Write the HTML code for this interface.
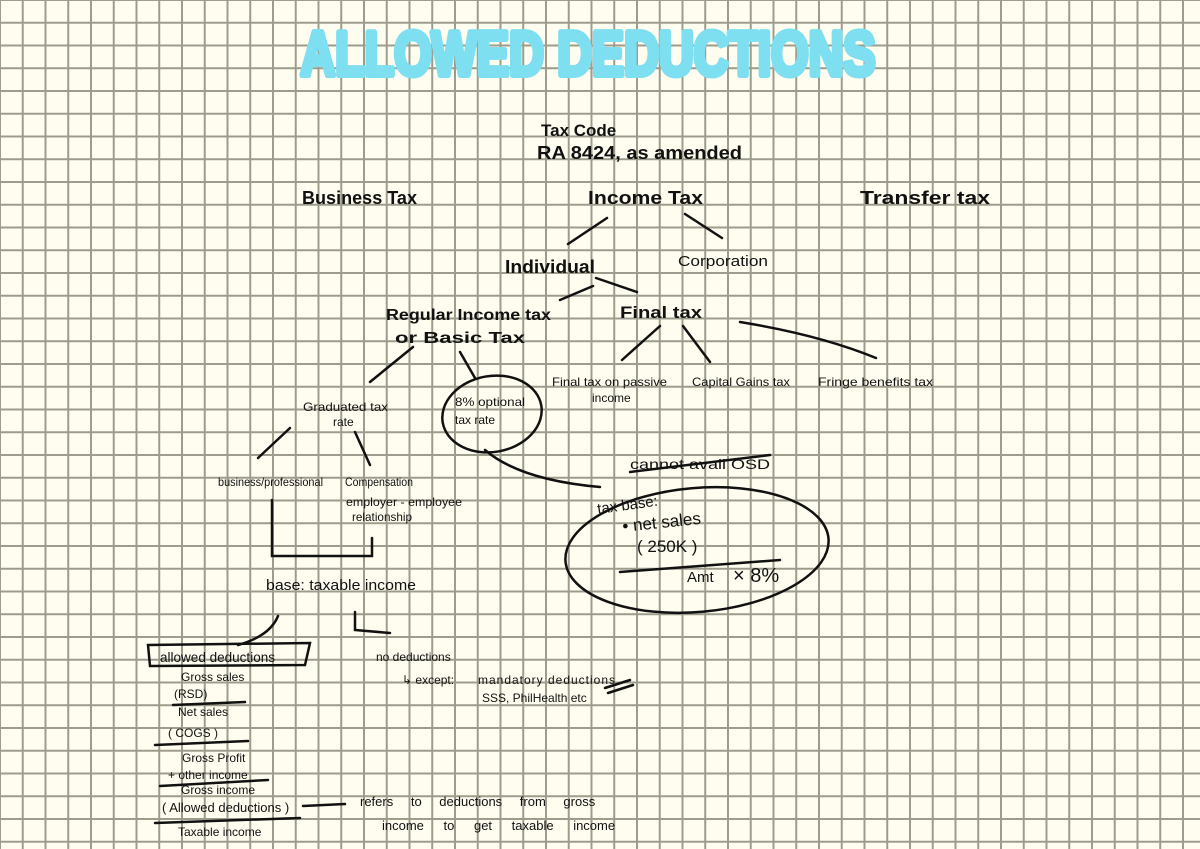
<!DOCTYPE html>
<html><head><meta charset="utf-8"><style>
html,body{margin:0;padding:0}
body{width:1200px;height:849px;overflow:hidden;background-color:#fffdf0;
background-image:linear-gradient(to right,#9c9b8c 0,#9c9b8c 2px,transparent 2px),linear-gradient(to bottom,#9c9b8c 0,#9c9b8c 2px,transparent 2px);
background-size:22.75px 22.75px;background-position:-1px -1px;}
svg{position:absolute;left:0;top:0}
text{font-family:"Liberation Sans",sans-serif;fill:#111}
</style></head><body>
<svg width="1200" height="849" viewBox="0 0 1200 849">
<text x="588" y="75" text-anchor="middle" font-size="62" font-weight="bold" style="fill:#7ddff0;stroke:#7ddff0;stroke-width:6;stroke-linejoin:round" textLength="575" lengthAdjust="spacingAndGlyphs">ALLOWED DEDUCTIONS</text>
<g font-weight="bold">
<text x="541" y="136" font-size="17">Tax Code</text>
<text x="537" y="159" font-size="18" textLength="205" lengthAdjust="spacingAndGlyphs">RA 8424, as amended</text>
<text x="302" y="204" font-size="18" textLength="115" lengthAdjust="spacingAndGlyphs">Business Tax</text>
<text x="588" y="204" font-size="18" textLength="115" lengthAdjust="spacingAndGlyphs">Income Tax</text>
<text x="860" y="204" font-size="18" textLength="130" lengthAdjust="spacingAndGlyphs">Transfer tax</text>
<text x="505" y="273" font-size="18" textLength="90" lengthAdjust="spacingAndGlyphs">Individual</text>
<text x="386" y="320" font-size="16" textLength="165" lengthAdjust="spacingAndGlyphs">Regular Income tax</text>
<text x="395" y="343" font-size="16" textLength="130" lengthAdjust="spacingAndGlyphs">or  Basic Tax</text>
<text x="620" y="318" font-size="17" textLength="82" lengthAdjust="spacingAndGlyphs">Final tax</text>
</g>
<g font-size="12">
<text x="678" y="266" font-size="15" textLength="90" lengthAdjust="spacingAndGlyphs">Corporation</text>
<text x="552" y="386" textLength="115" lengthAdjust="spacingAndGlyphs">Final tax on passive</text>
<text x="592" y="402">income</text>
<text x="692" y="386" textLength="98" lengthAdjust="spacingAndGlyphs">Capital Gains tax</text>
<text x="818" y="386" textLength="115" lengthAdjust="spacingAndGlyphs">Fringe benefits tax</text>
<text x="303" y="411" textLength="85" lengthAdjust="spacingAndGlyphs">Graduated tax</text>
<text x="333" y="426">rate</text>
<text x="455" y="406" textLength="70" lengthAdjust="spacingAndGlyphs">8% optional</text>
<text x="455" y="424">tax rate</text>
<text x="218" y="486" textLength="105" lengthAdjust="spacingAndGlyphs">business/professional</text>
<text x="345" y="486" textLength="68" lengthAdjust="spacingAndGlyphs">Compensation</text>
<text x="346" y="506" textLength="116" lengthAdjust="spacingAndGlyphs">employer - employee</text>
<text x="352" y="521" textLength="60" lengthAdjust="spacingAndGlyphs">relationship</text>
<text x="266" y="590" font-size="15" textLength="150" lengthAdjust="spacingAndGlyphs">base: taxable income</text>
<text x="630" y="469" font-size="14" textLength="140" lengthAdjust="spacingAndGlyphs">cannot avail OSD</text>
<text x="598" y="514" font-size="15" transform="rotate(-8 598 514)">tax base:</text>
<text x="623" y="532" font-size="17" transform="rotate(-6 623 532)">• net sales</text>
<text x="637" y="552" font-size="17">( 250K )</text>
<text x="687" y="582" font-size="15">Amt</text>
<text x="733" y="582" font-size="20">×  8%</text>
<text x="160" y="662" font-size="14" textLength="115" lengthAdjust="spacingAndGlyphs">allowed deductions</text>
<text x="181" y="681">Gross sales</text>
<text x="174" y="698">(RSD)</text>
<text x="178" y="716">Net sales</text>
<text x="168" y="737">( COGS )</text>
<text x="182" y="762">Gross Profit</text>
<text x="168" y="779">+ other income</text>
<text x="181" y="794">Gross income</text>
<text x="162" y="812" font-size="13">( Allowed deductions )</text>
<text x="178" y="836">Taxable income</text>
<text x="376" y="661">no deductions</text>
<text x="402" y="684">↳ except:</text>
<text x="478" y="684" textLength="137" lengthAdjust="spacing">mandatory  deductions</text>
<text x="482" y="702">SSS, PhilHealth  etc</text>
<text x="360" y="806" font-size="13" word-spacing="14">refers to deductions from gross</text>
<text x="382" y="830" font-size="13" word-spacing="16">income to get taxable income</text>
</g>
<g stroke="#111" stroke-width="2.5" fill="none" stroke-linecap="round">
<path d="M607 218 L568 244"/>
<path d="M685 214 L722 238"/>
<path d="M596 278 L637 292"/>
<path d="M593 286 L560 300"/>
<path d="M660 326 L622 360"/>
<path d="M683 326 L710 362"/>
<path d="M740 322 Q820 335 876 358"/>
<path d="M413 347 L370 382"/>
<path d="M460 352 L475 378"/>
<path d="M290 428 L258 458"/>
<path d="M355 432 L370 465"/>
<path d="M272 500 L272 556 L372 556 L372 538"/>
<path d="M278 616 Q270 636 238 645"/>
<path d="M355 612 L355 630 L390 633"/>
<ellipse cx="492" cy="414" rx="50" ry="38" transform="rotate(-10 492 414)"/>
<path d="M485 450 Q520 480 600 487"/>
<ellipse cx="697" cy="550" rx="132" ry="62" transform="rotate(-5 697 550)"/>
<path d="M630 472 L770 455"/>
<path d="M620 572 L780 560"/>
<path d="M148 645 L310 643 L305 665 L150 666 Z"/>
<path d="M173 705 L245 702"/>
<path d="M155 745 L248 741"/>
<path d="M160 786 L268 780"/>
<path d="M155 823 L300 818"/>
<path d="M303 806 L345 804"/>
<path d="M605 688 L630 680 M608 693 L633 685"/>
</g>
</svg>
</body></html>
